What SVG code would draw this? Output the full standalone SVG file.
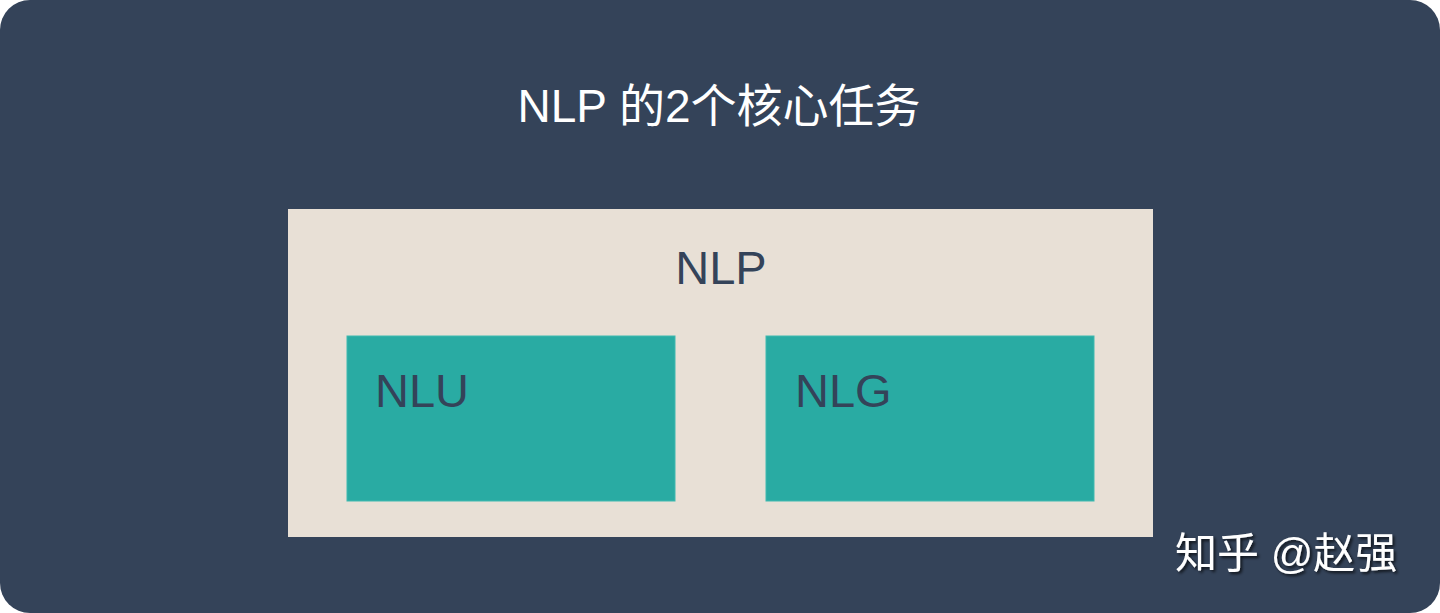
<svg xmlns="http://www.w3.org/2000/svg" width="1440" height="613" viewBox="0 0 1440 613">
<style>
.t{font-family:"Helvetica Neue","Liberation Sans","Noto Sans CJK SC",sans-serif}
.box{fill:#29aba3;stroke:#3fb9b0;stroke-width:1}
</style>
<defs><filter id="sh"><feDropShadow dx="2" dy="2" stdDeviation="1.5" flood-color="#000" flood-opacity="0.7"/></filter></defs>
<rect width="1440" height="613" fill="#fff"/>
<rect x="0" y="0" width="1440" height="613" rx="30" fill="#344359"/>
<text class="t" x="719" y="122" text-anchor="middle" font-size="46" fill="#fff">NLP 的2个核心任务</text>
<g id="nlp"><rect x="288" y="209" width="865" height="328" fill="#e8e0d6"/>
<text class="t" x="721" y="284" text-anchor="middle" font-size="47" fill="#344359">NLP</text></g>
<g id="nlu"><rect class="box" x="347" y="336" width="328" height="165"/>
<text class="t" x="375" y="407" font-size="47" fill="#344359">NLU</text></g>
<g id="nlg"><rect class="box" x="766" y="336" width="328" height="165"/>
<text class="t" x="795" y="407" font-size="47" fill="#344359">NLG</text></g>
<g id="connectors"/>
<text class="t" x="1175" y="568" font-size="42" fill="#fff" filter="url(#sh)">知乎 @赵强</text>
</svg>
